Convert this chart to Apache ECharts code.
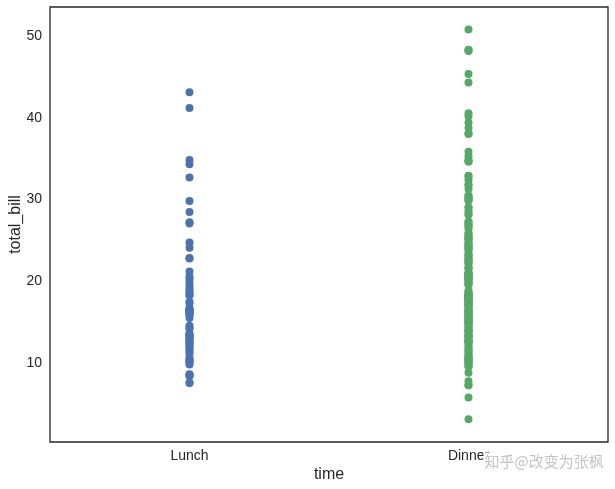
<!DOCTYPE html>
<html>
<head>
<meta charset="utf-8">
<script src="https://cdn.jsdelivr.net/npm/echarts@6/dist/echarts.min.js"></script>
<style>html,body{margin:0;padding:0;background:#fff;}#c{width:615px;height:489px;}</style>
</head>
<body>
<div id="c"></div>
<script>
var categories = ['Lunch', 'Dinner'];
var lunchBills = [27.20, 22.76, 17.29, 19.44, 16.66, 10.07, 32.68, 15.98, 34.83, 13.03, 18.28, 24.71, 21.16,
  10.65, 12.43, 24.08, 11.69, 13.42, 14.26, 15.95, 12.48, 29.80, 8.52, 14.52, 11.38, 22.82, 19.08, 20.27, 11.17, 12.26, 18.26, 8.51, 10.33, 14.15, 16.00, 13.16, 17.47, 34.30, 41.19, 27.05, 16.43, 8.35, 18.64, 11.87, 9.78, 7.51,
  19.81, 28.44, 15.48, 16.58, 7.56, 10.34, 43.11, 13.00, 13.51, 18.71, 12.74, 13.00, 16.40, 20.53, 16.47,
  12.16, 13.42, 8.58, 15.98, 13.42, 16.27, 10.09];
var dinnerBills = [16.99, 10.34, 21.01, 23.68, 24.59, 25.29, 8.77, 26.88, 15.04, 14.78, 10.27, 35.26, 15.42, 18.43, 14.83, 21.58, 10.33, 16.29, 16.97, 20.65, 17.92, 20.29, 15.77, 39.42, 19.82, 17.81, 13.37, 12.69, 21.70, 19.65, 9.55, 18.35, 15.06, 20.69, 17.78, 24.06, 16.31, 16.93, 18.69, 31.27, 16.04, 17.46, 13.94, 9.68, 30.40, 18.29, 22.23, 32.40, 28.55, 18.04, 12.54, 10.29, 34.81, 9.94, 25.56, 19.49, 38.01, 26.41, 11.24, 48.27, 20.29, 13.81, 11.02, 18.29, 17.59, 20.08, 16.45, 3.07, 20.23, 15.01, 12.02, 17.07, 26.86, 25.28, 14.73, 10.51, 17.92,
  28.97, 22.49, 5.75, 16.32, 22.75, 40.17, 27.28, 12.03, 21.01, 12.46, 11.35, 15.38, 44.30, 22.42, 20.92, 15.36, 20.49, 25.21, 18.24, 14.31, 14.00, 7.25, 38.07, 23.95, 25.71, 17.31, 29.93,
  14.07, 13.13, 17.26, 24.55, 19.77, 29.85, 48.17, 25.00, 13.39, 16.49, 21.50, 12.66, 16.21, 13.81, 17.51, 24.52, 20.76, 31.71, 10.59, 10.63, 50.81, 15.81, 7.25, 31.85, 16.82, 32.90, 17.89, 14.48, 9.60, 34.63, 34.65, 23.33, 45.35, 23.17, 40.55, 20.69, 20.90, 30.46, 18.15, 23.10, 15.69,
  26.59, 38.73, 24.27, 12.76, 30.06, 25.89, 48.33, 13.27, 28.17, 12.90, 28.15, 11.59, 7.74, 30.14,
  20.45, 13.28, 22.12, 24.01, 15.69, 11.61, 10.77, 15.53, 10.07, 12.60, 32.83, 35.83, 29.03, 27.18, 22.67, 17.82, 18.78];
var yTicks = [10, 20, 30, 40, 50];
var xName = 'time';
var yName = 'total_bill';
var watermark = '知乎@改变为张枫';

var chart = echarts.init(document.getElementById('c'), null, {renderer: 'canvas'});
var font = '"Liberation Sans", Arial, sans-serif';
var txt = '#262626';
chart.setOption({
  animation: false,
  backgroundColor: '#fff',
  grid: {left: 50, right: 7, top: 7, bottom: 47, containLabel: false, outerBoundsMode: 'none',
    show: true, borderColor: '#262626', borderWidth: 1.3, backgroundColor: 'transparent'},
  xAxis: {
    type: 'category', data: categories, boundaryGap: true,
    name: xName, nameLocation: 'middle', nameGap: 25, nameMoveOverlap: false,
    nameTextStyle: {fontFamily: font, fontSize: 16, color: txt},
    axisLine: {show: false}, axisTick: {show: false}, splitLine: {show: false},
    axisLabel: {fontFamily: font, fontSize: 14, color: txt, margin: 7}
  },
  yAxis: {
    type: 'value', min: 0.3, max: 53.55,
    name: yName, nameLocation: 'middle', nameGap: 26, nameMoveOverlap: false,
    nameTextStyle: {fontFamily: font, fontSize: 16, color: txt},
    axisLine: {show: false}, axisTick: {show: false}, splitLine: {show: false},
    axisLabel: {fontFamily: font, fontSize: 14, color: txt, margin: 8, customValues: yTicks}
  },
  series: [
    {type: 'scatter', symbol: 'circle', symbolSize: 8, itemStyle: {color: '#4C72B0', opacity: 1},
     data: lunchBills.map(function (v) { return [categories[0], v]; })},
    {type: 'scatter', symbol: 'circle', symbolSize: 8, itemStyle: {color: '#55A868', opacity: 1},
     data: dinnerBills.map(function (v) { return [categories[1], v]; })}
  ],
  graphic: [{
    type: 'text', left: 483, top: 452, z: 100,
    style: {text: watermark, fontFamily: '"Noto Sans CJK SC", sans-serif', fontSize: 15,
      fill: '#c4c4c4', stroke: '#ffffff', lineWidth: 3,
      backgroundColor: '#ffffff', padding: [0, 0, 0, 1]}
  }]
});
</script>
</body>
</html>
